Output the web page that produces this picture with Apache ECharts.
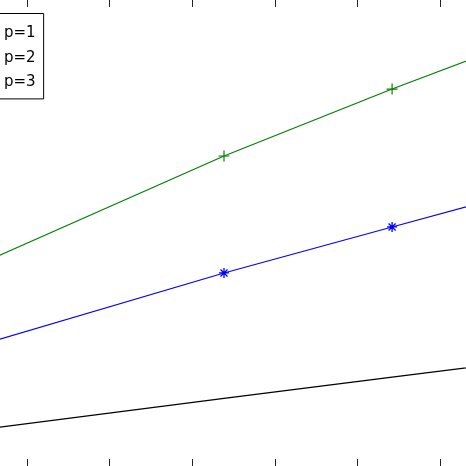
<!DOCTYPE html>
<html>
<head>
<meta charset="utf-8">
<script src="https://cdn.jsdelivr.net/npm/echarts@6/dist/echarts.min.js"></script>
<style>
html,body{margin:0;padding:0;background:#fff;}
#c{width:466px;height:466px;}
</style>
</head>
<body>
<div id="c"></div>
<script>
// x positions (tick units) of the computed points
const xVals = [-1.68, 2.385, 4.42, 6.45];
// log-error values for each order
const p1 = [0.31, 0.83, 1.087, 1.344];
const p2 = [1.15, 2.349, 2.906, 3.455];
const p3 = [1.967, 3.765, 4.576, 5.345];
const names = ['p=1', 'p=2', 'p=3'];
const tickValues = [0, 1, 2, 3, 4, 5];

const plusPath = 'path://M5,0L5,10M0,5L10,5';
const starPath = 'path://M5,0L5,10M0,5L10,5M1.5,1.5L8.5,8.5M8.5,1.5L1.5,8.5';

function pts(ys){ return xVals.map((x,i)=>[x, ys[i]]); }

const chart = echarts.init(document.getElementById('c'), null, {renderer:'canvas'});
const tickStyle = {show:true, inside:true, length:7, customValues:tickValues, lineStyle:{color:'#222', width:1}};
chart.setOption({
  animation:false,
  backgroundColor:'#fff',
  grid:{left:0, right:0, top:0, bottom:0, containLabel:false, outerBoundsMode:'none'},
  xAxis:[
    {type:'value', position:'bottom', min:-0.3269, max:5.3148,
     axisLine:{show:false}, axisTick:tickStyle, axisLabel:{show:false}, splitLine:{show:false}},
    {type:'value', position:'top', min:-0.3269, max:5.3148,
     axisLine:{show:false}, axisTick:tickStyle, axisLabel:{show:false}, splitLine:{show:false}}
  ],
  yAxis:{type:'value', min:0.0121, max:5.6538, show:false},
  legend:{
    orient:'vertical', left:-29, top:13.5,
    itemWidth:22, itemHeight:14, itemGap:9.7,
    padding:[12,8,9,5],
    backgroundColor:'#fff', borderColor:'#000', borderWidth:1, borderRadius:0,
    textStyle:{fontFamily:'DejaVu Sans', fontSize:15, color:'#000'},
    data:names
  },
  series:[
    {name:names[0], type:'line', data:pts(p1), symbol:'none',
     lineStyle:{color:'#000', width:1.2}, itemStyle:{color:'#000'}},
    {name:names[1], type:'line', data:pts(p2), symbol:starPath, symbolSize:10,
     lineStyle:{color:'#0000ff', width:1.2},
     itemStyle:{color:'#0000ff', borderColor:'#0000ff', borderWidth:1.3}},
    {name:names[2], type:'line', data:pts(p3), symbol:plusPath, symbolSize:11,
     lineStyle:{color:'#008000', width:1.2},
     itemStyle:{color:'#008000', borderColor:'#008000', borderWidth:1.2}}
  ]
});
</script>
</body>
</html>
